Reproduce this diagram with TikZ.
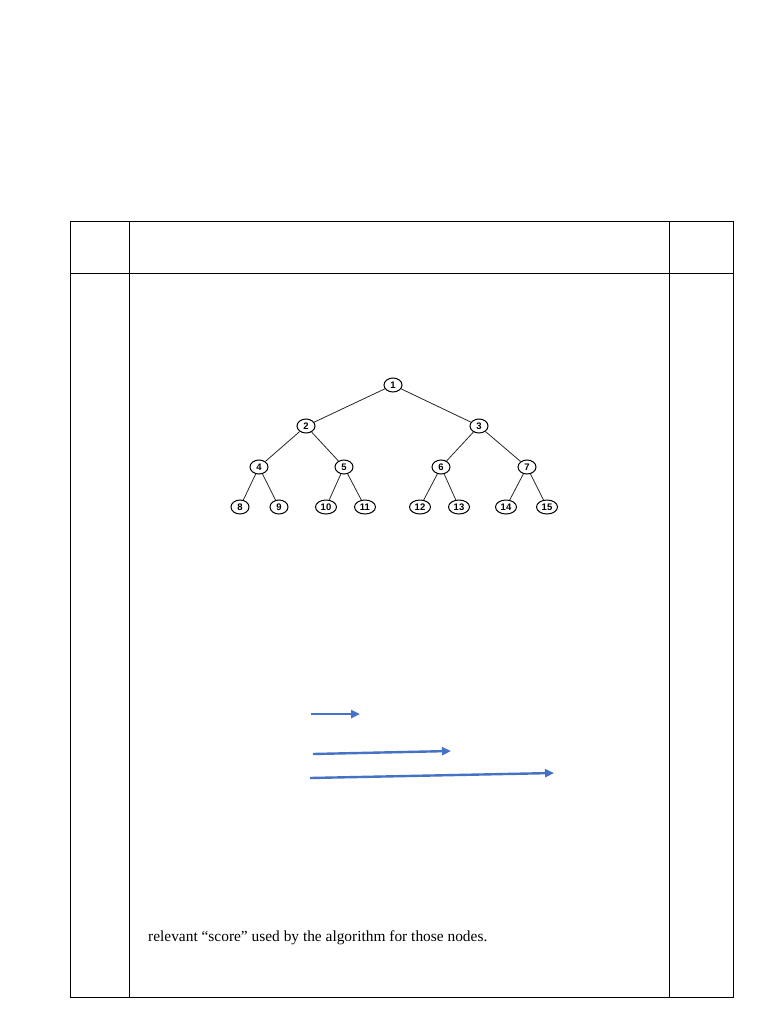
\documentclass[tikz,border=0pt]{standalone}
\usepackage{fontspec}
\setmainfont{Liberation Serif}
\newfontfamily\arialfont{Liberation Sans}
\usetikzlibrary{shapes.geometric,arrows.meta}
\begin{document}
\begin{tikzpicture}[x=1pt,y=-1pt,
  tbl/.style={line width=1pt,black},
  tn/.style={ellipse,draw,line width=1pt,inner sep=0pt,minimum height=14pt,minimum width=18pt,font=\arialfont\bfseries\fontsize{9.5}{9.5}\selectfont},
  tn2/.style={tn,minimum width=21pt},
  te/.style={line width=0.8pt,black!85},
  barrow/.style={line width=2.4pt,color={rgb,255:red,68;green,114;blue,196},-{Triangle[length=9pt,width=8pt]}}
]
\useasboundingbox[fill=white] (0,0) rectangle (768,1024);
% table
\draw[tbl] (70,222) rectangle (733,997);
\draw[tbl] (129,222) -- (129,997);
\draw[tbl] (669,222) -- (669,997);
\draw[tbl] (70,273) -- (733,273);
% tree
\node[tn] (n1) at (393,385) {1};
\node[tn] (n2) at (306,426) {2};
\node[tn] (n3) at (479,426) {3};
\node[tn] (n4) at (259,467) {4};
\node[tn] (n5) at (344,467) {5};
\node[tn] (n6) at (441,467) {6};
\node[tn] (n7) at (527,467) {7};
\node[tn] (n8) at (240,507) {8};
\node[tn] (n9) at (279,507) {9};
\node[tn2] (n10) at (326,507) {10};
\node[tn2] (n11) at (365,507) {11};
\node[tn2] (n12) at (420,507) {12};
\node[tn2] (n13) at (459,507) {13};
\node[tn2] (n14) at (506,507) {14};
\node[tn2] (n15) at (547,507) {15};
\draw[te] (n1)--(n2) (n1)--(n3);
\draw[te] (n2)--(n4) (n2)--(n5) (n3)--(n6) (n3)--(n7);
\draw[te] (n4)--(n8) (n4)--(n9) (n5)--(n10) (n5)--(n11);
\draw[te] (n6)--(n12) (n6)--(n13) (n7)--(n14) (n7)--(n15);
% arrows
\coordinate (a1s) at (311,714); \coordinate (a1e) at (360,714);
\coordinate (a2s) at (313,754); \coordinate (a2e) at (451,751);
\coordinate (a3s) at (310,778); \coordinate (a3e) at (554,773);
\draw[barrow] (a1s) -- (a1e);
\draw[barrow] (a2s) -- (a2e);
\draw[barrow] (a3s) -- (a3e);
% text
\node[anchor=base west,inner sep=0pt,font=\fontsize{15.4}{17}\selectfont] (txt) at (148,941) {relevant “score” used by the algorithm for those nodes.};
\end{tikzpicture}
\end{document}
